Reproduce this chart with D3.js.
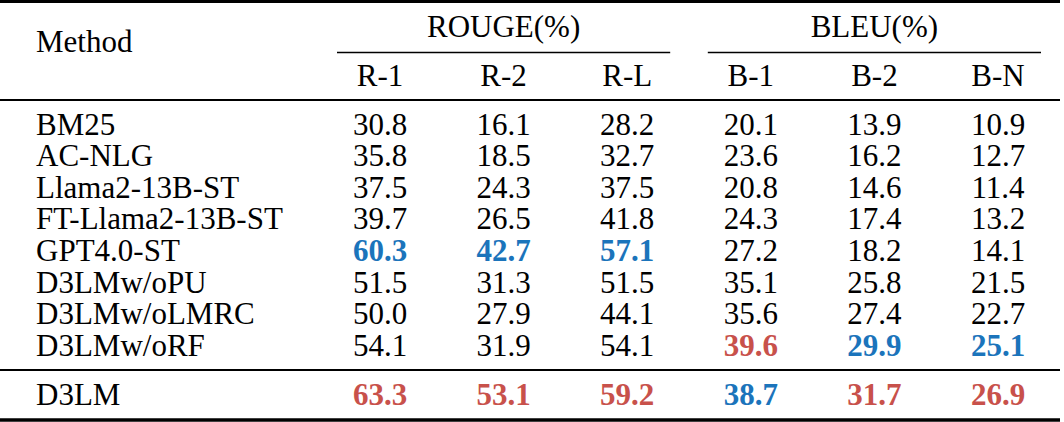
<!DOCTYPE html>
<html>
<head>
<meta charset="utf-8">
<script src="https://cdn.jsdelivr.net/npm/d3@7"></script>
<style>
  html, body { margin: 0; padding: 0; background: #fff; }
  svg text { font-family: "Liberation Serif", "Times New Roman", serif; font-size: 31px; fill: #000; }
</style>
</head>
<body>
<svg id="table"></svg>
<script>
// table data
const methods = ["BM25", "AC-NLG", "Llama2-13B-ST", "FT-Llama2-13B-ST", "GPT4.0-ST",
  "D3LMw/oPU", "D3LMw/oLMRC", "D3LMw/oRF"];
const finalMethod = "D3LM";
const groups = ["ROUGE(%)", "BLEU(%)"];
const columns = ["R-1", "R-2", "R-L", "B-1", "B-2", "B-N"];

const rouge1 = [30.8, 35.8, 37.5, 39.7, 60.3, 51.5, 50.0, 54.1];
const rouge2 = [16.1, 18.5, 24.3, 26.5, 42.7, 31.3, 27.9, 31.9];
const rougeL = [28.2, 32.7, 37.5, 41.8, 57.1, 51.5, 44.1, 54.1];
const bleu1 = [20.1, 23.6, 20.8, 24.3, 27.2, 35.1, 35.6, 39.6];
const bleu2 = [13.9, 16.2, 14.6, 17.4, 18.2, 25.8, 27.4, 29.9];
const bleuN = [10.9, 12.7, 11.4, 13.2, 14.1, 21.5, 22.7, 25.1];
const finalRow = [63.3, 53.1, 59.2, 38.7, 31.7, 26.9];

// best (red) and second best (blue) marks: [row, column]
const bestCells = [[8, 0], [8, 1], [8, 2], [7, 3], [8, 4], [8, 5]];
const secondCells = [[4, 0], [4, 1], [4, 2], [8, 3], [7, 4], [7, 5]];

const width = 1064, height = 422;
const red = "#c8514b", blue = "#1b74bb";

const svg = d3.select("#table").attr("width", width).attr("height", height);

const x = d3.scalePoint().domain(columns).range([380, 998]);
const y = d3.scaleLinear().domain([0, methods.length - 1]).range([134.5, 355.8]);
const yFinal = 405;
const halfCol = 43;

const series = [rouge1, rouge2, rougeL, bleu1, bleu2, bleuN];
const rows = methods.map((m, i) => ({ name: m, y: y(i), vals: series.map(s => s[i]) }));
rows.push({ name: finalMethod, y: yFinal, vals: finalRow });

function cellColor(r, c) {
  if (bestCells.some(d => d[0] === r && d[1] === c)) return red;
  if (secondCells.some(d => d[0] === r && d[1] === c)) return blue;
  return null;
}

// rules
const rule = (y0, x0, x1, w) => svg.append("line")
  .attr("x1", x0).attr("x2", x1).attr("y1", y0).attr("y2", y0)
  .attr("stroke", "#000").attr("stroke-width", w);
rule(1.5, 0, 1060, 3);
rule(100, 0, 1060, 1.8);
rule(370, 0, 1060, 1.8);
rule(420, 0, 1060, 3.5);

// group headers with cmidrules
const groupCols = [columns.slice(0, 3), columns.slice(3)];
groupCols.forEach((cols, g) => {
  const x0 = x(cols[0]) - halfCol, x1 = x(cols[cols.length - 1]) + halfCol;
  rule(52.5, x0, x1, 1.6);
  svg.append("text")
    .attr("x", x(cols[1])).attr("y", 37)
    .attr("text-anchor", "middle")
    .text(groups[g]);
});

svg.append("text").attr("x", 36).attr("y", 52).text("Method");

svg.selectAll(".colhead").data(columns).join("text")
  .attr("class", "colhead")
  .attr("x", d => x(d)).attr("y", 86)
  .attr("text-anchor", "middle")
  .text(d => d);

// body
const rowG = svg.selectAll(".row").data(rows).join("g").attr("class", "row");

rowG.append("text")
  .attr("x", 36).attr("y", d => d.y)
  .text(d => d.name);

rowG.each(function(d, r) {
  d3.select(this).selectAll(".cell").data(d.vals).join("text")
    .attr("class", "cell")
    .attr("x", (v, c) => x(columns[c]))
    .attr("y", d.y)
    .attr("text-anchor", "middle")
    .style("font-weight", (v, c) => cellColor(r, c) ? "bold" : null)
    .style("fill", (v, c) => cellColor(r, c) || "#000")
    .text(v => v.toFixed(1));
});
</script>
</body>
</html>
